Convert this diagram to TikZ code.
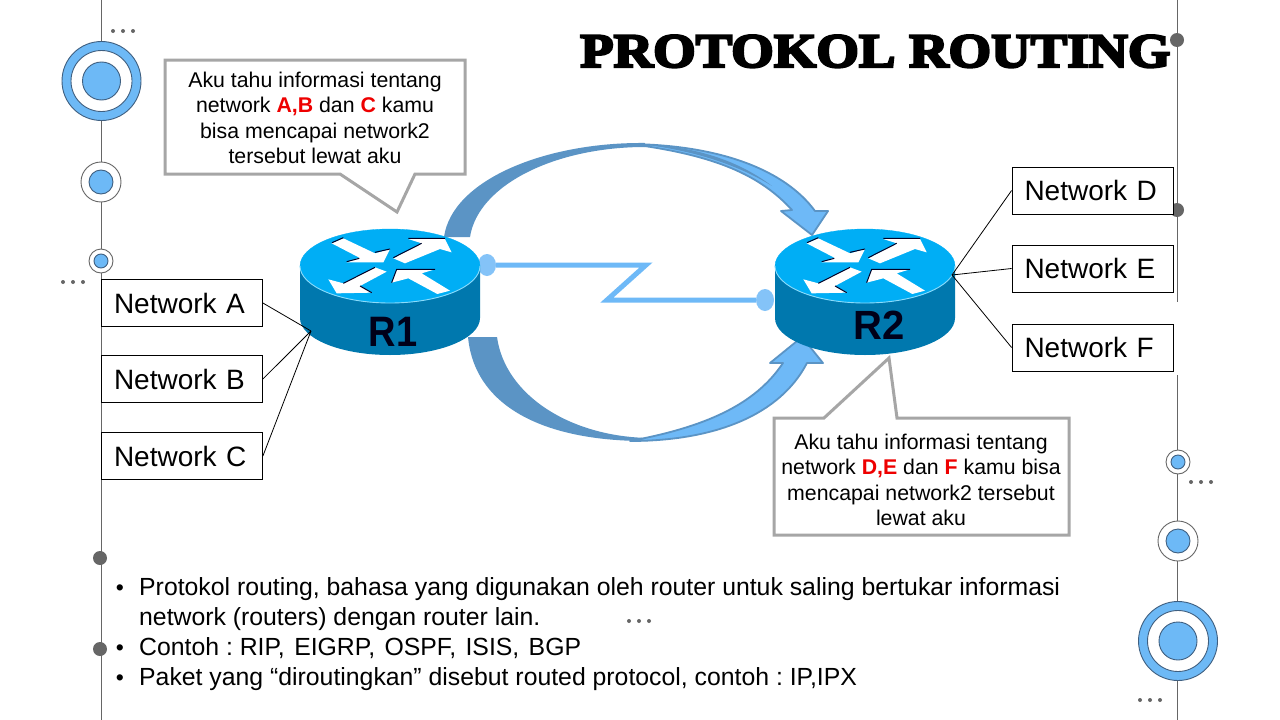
\documentclass[tikz,border=0pt]{standalone}
\usepackage{fontspec}
\setmainfont{Liberation Sans}
\newfontfamily\titlefont[FakeBold=5,FakeStretch=1.14]{Liberation Serif Bold}
\frenchspacing
\definecolor{lineg}{HTML}{666666}
\definecolor{ringb}{HTML}{6DB9F6}
\definecolor{ringe}{HTML}{3F5F80}
\definecolor{arrd}{HTML}{5B94C5}
\definecolor{arrl}{HTML}{6EB9F7}
\definecolor{rtop}{HTML}{00AEF5}
\definecolor{rside}{HTML}{0078AE}
\definecolor{callg}{HTML}{A6A6A6}
\definecolor{redt}{HTML}{EE0000}
\tikzset{
  x=1pt,y=-1pt,
  netbox/.style={draw=black,line width=0.8pt,fill=white,minimum width=161pt,minimum height=47pt,text width=136pt,inner xsep=12.5pt,inner ysep=0pt,align=left,font=\fontsize{28}{30}\selectfont},
  calltext/.style={align=center,inner sep=0pt,font=\fontsize{21.3}{25.5}\selectfont},
  callout/.style={draw=callg,line width=3pt,fill=white,line join=miter},
  netlink/.style={draw=black,line width=0.8pt},
  rail/.style={draw=lineg,line width=0.9pt},
  link/.style={draw=arrl,line width=5pt},
  linkdot/.style={fill=arrl!85!white,ellipse,minimum width=18pt,minimum height=22pt,inner sep=0pt},
  rlabel/.style={font=\bfseries,text=black!90!blue,inner sep=0pt},
  bodytext/.style={inner sep=0pt,font=\fontsize{24.8}{30}\selectfont},
  bulletmark/.style={anchor=base,inner sep=0pt,font=\fontsize{23}{30}\selectfont},
  router/.pic={
    \fill[rside] (-90,0) -- (-90,52) arc[start angle=180,end angle=360,x radius=90pt,y radius=37pt] -- (90,0) -- cycle;
    \draw[rtop,fill=rtop,line width=0.3pt] (0,0) ellipse[x radius=90pt,y radius=37pt];
    \draw[white!55!rtop,line width=0.9pt] (-90,0) arc[start angle=180,end angle=360,x radius=90pt,y radius=37pt];
    \begin{scope}[x=0.3333pt,y=-0.3333pt,shift={(-330,-408)}]
      \fill[white] (190,325)--(285,370)--(330,357)--(310,397)--(200,397)--(238,383)--(155,340)--cycle;
      \fill[white] (340,385)--(425,340)--(385,327)--(495,327)--(515,367)--(480,357)--(375,400)--cycle;
      \fill[white] (285,412)--(320,425)--(240,468)--(275,488)--(170,490)--(145,448)--(190,460)--cycle;
      \fill[white] (335,458)--(350,418)--(465,418)--(425,430)--(510,482)--(472,492)--(385,445)--cycle;
      \draw[black!85!blue,line width=1pt] (156,338)--(190,323) (285,367)--(330,357) (200,395)--(238,385)
        (340,383)--(425,340) (385,325)--(495,325)
        (190,460)--(285,412) (240,468)--(275,488)
        (335,458)--(350,418)--(465,418);
    \end{scope}
  }
}
\usetikzlibrary{shapes.geometric}
\newcommand{\tripledots}[2]{\fill[lineg] (#1-10,#2) circle[radius=2pt] (#1,#2) circle[radius=2pt] (#1+10,#2) circle[radius=2pt];}
\newcommand{\bigring}[2]{\draw[ringe,fill=ringb,line width=0.9pt] (#1,#2) circle[radius=39.5pt];
  \draw[ringe,fill=white,line width=0.9pt] (#1,#2) circle[radius=30.5pt];
  \draw[ringe,fill=ringb,line width=0.9pt] (#1,#2) circle[radius=19pt];}
\newcommand{\ring}[4]{\draw[lineg,fill=white,line width=0.9pt] (#1,#2) circle[radius=#3pt];
  \draw[ringe,fill=ringb,line width=0.9pt] (#1,#2) circle[radius=#4pt];}
\begin{document}
\begin{tikzpicture}
\useasboundingbox (0,0) rectangle (1280,720);
\fill[white] (0,0) rectangle (1280,720);

% side rails
\draw[rail] (101,0) -- (101,720);
\draw[rail] (1177,0) -- (1177,302);
\draw[rail] (1177,375) -- (1177,720);
\fill[lineg] (100,558) circle[radius=7pt] (100,649) circle[radius=7pt] (1177,40) circle[radius=7pt] (1177,210) circle[radius=7pt];
\bigring{101.5}{81}
\ring{101}{182}{20}{12}
\ring{101}{261}{12}{7}
\ring{1178}{462}{12}{7}
\ring{1178}{541}{20}{12}
\bigring{1178}{641}
\tripledots{123}{31}
\tripledots{73}{282}
\tripledots{1201}{482}
\tripledots{639}{621}
\tripledots{1150}{700}

% title
\node[anchor=base west,inner sep=0pt,font=\titlefont\fontsize{48}{50}\selectfont] (title) at (580,67) {PROTOKOL ROUTING};

% routing update arrows
\fill[arrd] (444,237) .. controls (452,180) and (545,142) .. (645,143) -- (645,147) .. controls (555,147) and (478,185) .. (470,237) -- cycle;
\draw[arrd,fill=arrl,line width=1.8pt,line join=round] (630,144) .. controls (720,145) and (785,170) .. (815,211) -- (828,211) -- (812,235) -- (781,211) -- (792,210) .. controls (760,175) and (715,155) .. (630,144) -- cycle;
\fill[arrd] (640,144) .. controls (690,146) and (735,158) .. (772,186) .. controls (735,163) and (690,150) .. (640,144) -- cycle;
\fill[arrd] (468,337) .. controls (475,410) and (550,442) .. (650,441) -- (650,438) .. controls (570,437) and (505,395) .. (497,337) -- cycle;
\draw[arrd,fill=arrl,line width=1.8pt,line join=round] (630,441) .. controls (715,441) and (780,415) .. (807,363) -- (823,363) -- (802,337) -- (770,363) -- (783,363) .. controls (755,405) and (705,427) .. (630,441) -- cycle;

% serial link
\node[linkdot] (dota) at (487,265) {};
\node[linkdot] (dotb) at (765,300) {};
\coordinate (kneea) at (646,265);
\coordinate (kneeb) at (607,300);
\draw[link,line join=miter] (dota) -- (kneea) -- (kneeb) -- (dotb);

% routers
\pic at (390,266) {router};
\pic at (865,266) {router};
\node[rlabel,font=\bfseries\fontsize{38}{40}\selectfont,yscale=1.12,transform shape] (r1label) at (393,332) {R1};
\node[rlabel,font=\bfseries\fontsize{40}{42}\selectfont,yscale=1.02,transform shape] (r2label) at (879,325) {R2};
\coordinate (r1port) at (311,331);
\coordinate (r2port) at (952,275);

% networks
\node[netbox] (neta) at (182,303) {Network A};
\node[netbox] (netb) at (182,379) {Network B};
\node[netbox] (netc) at (182,456) {Network C};
\node[netbox] (netd) at (1092.5,190.5) {Network D};
\node[netbox] (nete) at (1092.5,268.5) {Network E};
\node[netbox] (netf) at (1092.5,347.5) {Network F};
\draw[netlink] (neta.east) -- (r1port);
\draw[netlink] (netb.east) -- (r1port);
\draw[netlink] (netc.east) -- (r1port);
\draw[netlink] (netd.west) -- (r2port);
\draw[netlink] (nete.west) -- (r2port);
\draw[netlink] (netf.west) -- (r2port);

% callouts
\draw[callout] (165,60) -- (465,60) -- (465,174) -- (415,174) -- (397,212) -- (340,174) -- (165,174) -- cycle;
\draw[callout] (774,418) -- (824,418) -- (889,358) -- (897,418) -- (1069,418) -- (1069,535) -- (774,535) -- cycle;
\node[calltext] (calla) at (315,118) {Aku tahu informasi tentang\\network {\color{redt}\bfseries A,B} dan {\color{redt}\bfseries C} kamu\\bisa mencapai network2\\tersebut lewat aku};
\node[calltext] (callb) at (921,480) {Aku tahu informasi tentang\\network {\color{redt}\bfseries D,E} dan {\color{redt}\bfseries F} kamu bisa\\mencapai network2 tersebut\\lewat aku};

% bullets
\node[bodytext,anchor=north west,align=left] (bullets) at (139,577) {Protokol routing, bahasa yang digunakan oleh router untuk saling bertukar informasi\\network (routers) dengan router lain.\\Contoh : RIP,\hspace{2.5pt} EIGRP,\hspace{2.5pt} OSPF,\hspace{2.5pt} ISIS,\hspace{2.5pt} BGP\\Paket yang “diroutingkan” disebut routed protocol, contoh : IP,IPX};
\node[bulletmark] (b1) at (120,595) {•};
\node[bulletmark] (b2) at (120,655) {•};
\node[bulletmark] (b3) at (120,685) {•};
\end{tikzpicture}
\end{document}
